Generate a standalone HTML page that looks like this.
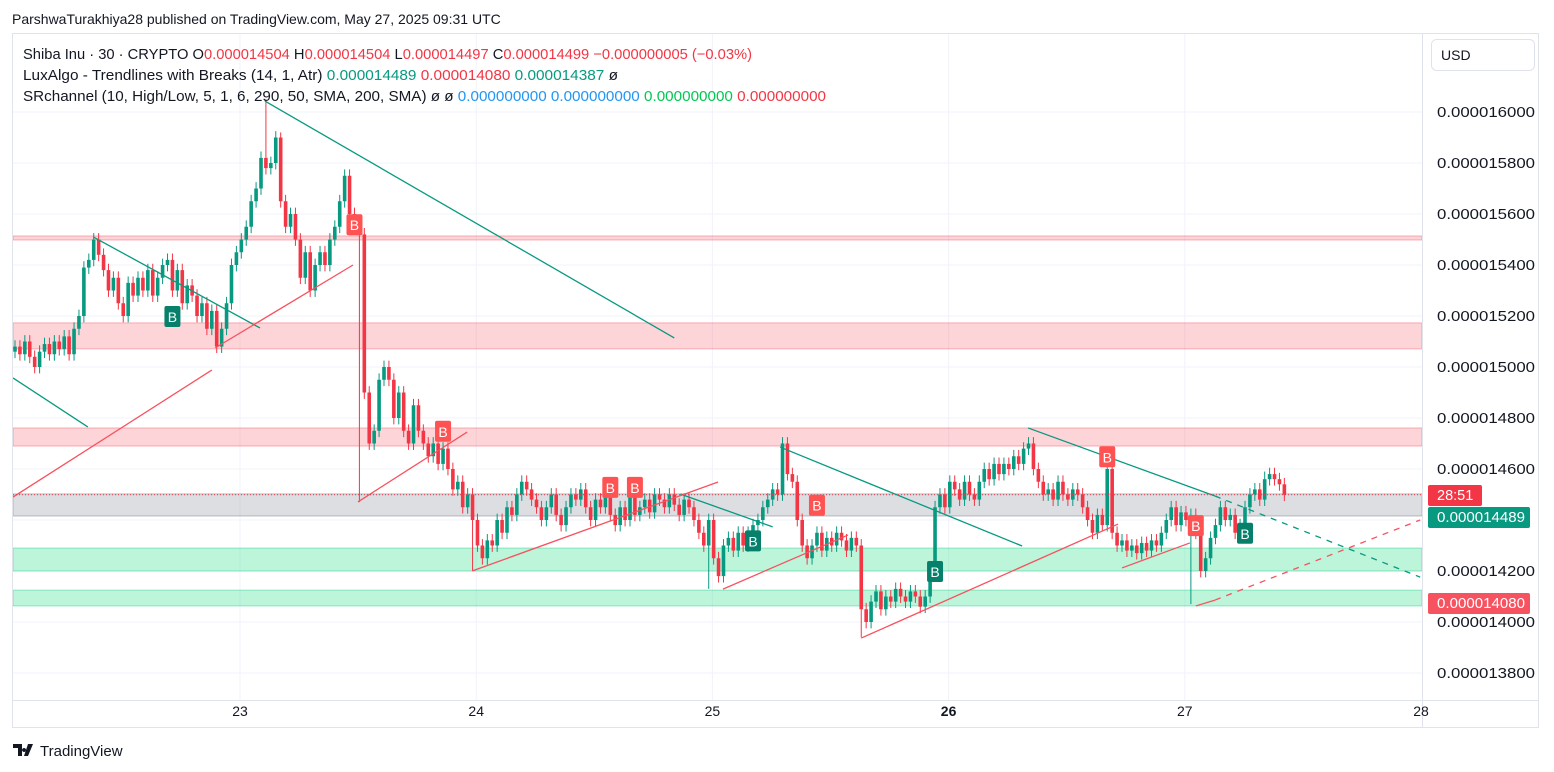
<!DOCTYPE html>
<html><head><meta charset="utf-8">
<style>
body{margin:0;background:#fff;font-family:"Liberation Sans",sans-serif;}
svg{display:block}
text{font-family:"Liberation Sans",sans-serif}
</style></head>
<body>
<svg id="chart" width="1554" height="772" viewBox="0 0 1554 772">
<defs><clipPath id="plotclip"><rect x="13" y="34" width="1409" height="666"/></clipPath></defs>
</svg>
<script>
// ---- data ----
const firstOpen = 15060;
const closes = [15080,15050,15100,15040,15000,15060,15090,15050,15100,15070,15120,15050,15150,15200,
15390,15420,15500,15440,
15380,15300,15350,15250,15200,15330,15280,15350,15300,15380,15280,15350,15400,
15420,15300,15380,15250,15320,15280,15200,15250,15150,15220,15080,15150,
15250,15400,15450,15500,15550,
15650,15700,15820,15780,15800,
15900,15650,15550,15600,15500,
15350,15450,15300,15400,
15450,15400,15500,15550,15650,15750,
15600,15550,15520,
14900,14700,14750,14950,15000,14950,
14800,14900,14750,14700,14850,14750,14700,14650,14700,14620,14680,
14600,14520,14550,14450,14500,14400,
14300,14250,
14320,14300,14400,14350,14450,14420,14500,14550,14520,
14480,14450,14400,14450,14500,14420,14380,14450,
14500,14480,14520,14450,14400,14480,14450,14500,
14420,14380,14450,14400,14500,14420,14450,14480,14430,14500,
14480,14450,14500,14460,14420,14480,14450,14400,
14350,14300,14400,14250,14180,14300,
14330,14280,14350,14300,14350,14380,
14400,14450,14480,14520,14500,
14700,14580,14550,
14400,14300,14250,
14300,14350,14280,14330,14300,14350,14320,14280,14330,14300,
14050,14000,
14080,14120,14050,14100,14080,14130,14100,14080,14120,14100,14060,14100,14200,
14450,
14500,14450,14550,14520,14480,14550,
14500,14480,14550,14600,14560,14620,14580,14620,
14600,14650,14620,14680,14700,14600,
14550,14500,14520,14480,14550,14500,
14480,14520,14500,14450,
14400,14350,14420,14380,
14600,
14350,
14300,14320,14280,14300,14270,14310,14280,14320,14300,
14350,14400,14450,14380,14430,14400,
14420,14350,14200,14250,14330,14380,
14450,14400,14420,14350,14380,14450,
14500,14520,14480,14560,14580,14560,14540,
14499];
const spikeIdx = [51,54,70,93,141,172,239,254];
const spikeLow = [null,null,14470,14200,14130,13940,14070,null];
const spikeHigh = [16050,15920,null,null,null,null,null,14590];
const yTicks = [16000,15800,15600,15400,15200,15000,14800,14600,14400,14200,14000,13800];
const hiddenTickLabels = [14400];
const xTickDays = [23,24,25,26,27,28];
const xTickLabels = ["23","24","25","26","27","28"];
// zones [top price, bottom price, type]
const zoneTop = [15514,15173,14761,14502,14290,14125];
const zoneBot = [15498,15071,14690,14416,14200,14063];
const zoneType = ["r","r","r","g","n","n"];
// trendlines: [i1,p1,i2,p2]
const tealLines = [[-0.4,14957,14.8,14765],[15.9,15510,49.8,15153],[50.8,16043,134,15114],[135.2,14502,154,14373],[155.5,14686,204.7,14298],[205.9,14761,243.9,14494]];
const redLines = [[-0.4,14490,40,14988],[40.7,15075,68.7,15400],[69.7,14471,91.9,14745],[92.9,14200,142.9,14549],[143.9,14129,169.3,14341],[172,13937,224.2,14384],[225,14212,238.8,14310],[240,14063,243.9,14086]];
const dashTeal = [243.9,14494,285.6,14176];
const dashRed = [243.9,14086,285.6,14400];
const redB = [[69,15560],[87,14750],[121,14530],[126,14530],[163,14460],[222,14650],[240,14380]];
const greenB = [[32,15200],[150,14320],[187,14200],[250,14350],[-2.6,14780]];

// ---- axes ----
const X0=15, STEP=4.92;
function xi(i){return X0+i*STEP;}
function xd(d){return 240+(d-23)*236.2;}
function yp(p){return 112+(16000-p)*0.255;}
function fmt(p){return "0.0000"+String(p).padStart(5,"0");}

const svg=document.getElementById('chart');
const NS="http://www.w3.org/2000/svg";
function mk(tag,attrs,parent){const e=document.createElementNS(NS,tag);for(const k in attrs)e.setAttribute(k,attrs[k]);(parent||svg).appendChild(e);return e;}

const plot=mk('g',{'clip-path':'url(#plotclip)'});



// frame
let fr=mk('rect',{x:12.5,y:33.5,width:1526,height:694,fill:'none',stroke:'#e0e3eb'});


let ax=mk('line',{x1:1422.5,y1:34,x2:1422.5,y2:727,stroke:'#e0e3eb'});


let bx=mk('line',{x1:13,y1:700.5,x2:1538,y2:700.5,stroke:'#e0e3eb'});



// grid
yTicks.forEach(p=>{
  const g=mk('line',{x1:13,x2:1422,y1:yp(p),y2:yp(p),stroke:'#f0f3fa'},plot);
  
  
  if(hiddenTickLabels.indexOf(p)>=0) return;
  const t=mk('text',{x:1437,y:yp(p)+5,'font-size':14.5,fill:'#131722',textLength:98,lengthAdjust:'spacingAndGlyphs'});
  t.textContent=fmt(p);
  
  
});
xTickDays.forEach((d,k)=>{
  if(d<28){const g=mk('line',{x1:xd(d),x2:xd(d),y1:34,y2:700,stroke:'#f0f3fa'},plot);
  
  }
  const t=mk('text',{x:xd(d),y:716,'font-size':14,fill:'#131722','text-anchor':'middle','font-weight':d===26?'bold':'normal'});
  t.textContent=xTickLabels[k];
  
  
});

// zones
zoneTop.forEach((tp,k)=>{
  const ty=zoneType[k];
  const fill=ty==='r'?'rgba(247,82,95,0.25)':ty==='g'?'rgba(178,181,190,0.45)':'rgba(66,226,152,0.35)';
  const st=ty==='r'?'rgba(242,54,69,0.35)':ty==='g'?'#b2b5be':'rgba(8,200,120,0.4)';
  const z=mk('rect',{x:13,y:yp(tp),width:1409,height:yp(zoneBot[k])-yp(tp),fill:fill,stroke:st},plot);
  
  
});

// candles
let prev=firstOpen;
closes.forEach((c,i)=>{
  const o=prev; prev=c;
  let hi=Math.max(o,c)+25, lo=Math.min(o,c)-25;
  const si=spikeIdx.indexOf(i);
  if(si>=0){ if(spikeHigh[si]!==null) hi=spikeHigh[si]; if(spikeLow[si]!==null) lo=spikeLow[si]; }
  const col=c>=o?'#089981':'#f23645';
  const x=xi(i);
  const w=mk('line',{x1:x,x2:x,y1:yp(hi),y2:yp(lo),stroke:col,'stroke-width':1},plot);
  
  
  const top=yp(Math.max(o,c)), h=Math.max(1,yp(Math.min(o,c))-top);
  const b=mk('rect',{x:x-1.8,y:top,width:3.6,height:h,fill:col},plot);
  
  
});

// trendlines
function tl(a,col,dash){
  const l=mk('line',{x1:xi(a[0]),y1:yp(a[1]),x2:xi(a[2]),y2:yp(a[3]),stroke:col,'stroke-width':1.3},plot);
  if(dash) l.setAttribute('stroke-dasharray','6 6');
  
  
}
tealLines.forEach(a=>tl(a,'#089981'));
redLines.forEach(a=>tl(a,'#f7525f'));
tl(dashTeal,'#089981',true);
tl(dashRed,'#f7525f',true);

// current price dotted
let cp=mk('line',{x1:13,x2:1422,y1:yp(14499),y2:yp(14499),stroke:'#f23645','stroke-dasharray':'1 2'},plot);



// B labels
function blab(a,col){
  const x=xi(a[0]), y=yp(a[1]);
  const g=mk('g',{},plot);
  
  
  mk('rect',{x:x-8,y:y-10,width:16,height:21,rx:2,fill:col},g);
  const t=mk('text',{x:x,y:y+6,'font-size':14,fill:'#fff','text-anchor':'middle'},g);
  t.textContent='B';
}
redB.forEach(a=>blab(a,'#ff5252'));
greenB.forEach(a=>blab(a,'#06806b'));

// price axis labels
function plab(y,w,col,txt,name){
  const g=mk('g',{});
  
  
  mk('rect',{x:1428,y:y-10,width:w,height:21,rx:2,fill:col},g);
  const t=mk('text',{x:1437,y:y+5,'font-size':14.5,fill:'#fff'},g);
  if(w>60){t.setAttribute('textLength',88);t.setAttribute('lengthAdjust','spacingAndGlyphs');}
  t.textContent=txt;
}
plab(495,54,'#f23645','28:51','countdown-label');
plab(517,102,'#089981','0.000014489','trend-upper-price-label');
plab(603,102,'#f7525f','0.000014080','trend-lower-price-label');

// USD button
const ug=mk('g',{});


mk('rect',{x:1431.5,y:39.5,width:103,height:31,rx:5,fill:'#fff',stroke:'#e0e3eb'},ug);
const ut=mk('text',{x:1441,y:60,'font-size':14,fill:'#131722'},ug);
ut.textContent='USD';

// header & legend
const hd=mk('text',{x:12,y:24,'font-size':14,fill:'#131722'});
hd.textContent='ParshwaTurakhiya28 published on TradingView.com, May 27, 2025 09:31 UTC';


function legendLine(y,parts,name,len){
  const t=mk('text',{x:23,y:y,'font-size':15,fill:'#131722',textLength:len,lengthAdjust:'spacingAndGlyphs'});
  
  
  parts.forEach(p=>{const s=mk('tspan',{fill:p[1]},t);s.textContent=p[0];});
}
legendLine(59,[['Shiba Inu · 30 · CRYPTO  ','#131722'],['O','#131722'],['0.000014504  ','#f23645'],['H','#131722'],['0.000014504  ','#f23645'],['L','#131722'],['0.000014497  ','#f23645'],['C','#131722'],['0.000014499  −0.000000005 (−0.03%)','#f23645']],'legend-symbol',729);
legendLine(80,[['LuxAlgo - Trendlines with Breaks (14, 1, Atr)  ','#131722'],['0.000014489  ','#089981'],['0.000014080  ','#f23645'],['0.000014387  ','#089981'],['ø','#131722']],'legend-luxalgo',595);
legendLine(101,[['SRchannel (10, High/Low, 5, 1, 6, 290, 50, SMA, 200, SMA)  ø  ø  ','#131722'],['0.000000000  ','#2196f3'],['0.000000000  ','#2196f3'],['0.000000000  ','#00c853'],['0.000000000','#f23645']],'legend-srchannel',803);

// footer logo
const lg=mk('g',{});


mk('path',{d:'M13 744h9v12h-4v-8h-5z M24 748a2 2 0 1 0 0.1 0z M28 744h5l-5 12h-4z',fill:'#131722'},lg);
const lt=mk('text',{x:40,y:756,'font-size':15,fill:'#131722'},lg);
lt.textContent='TradingView';
</script>
</body></html>
